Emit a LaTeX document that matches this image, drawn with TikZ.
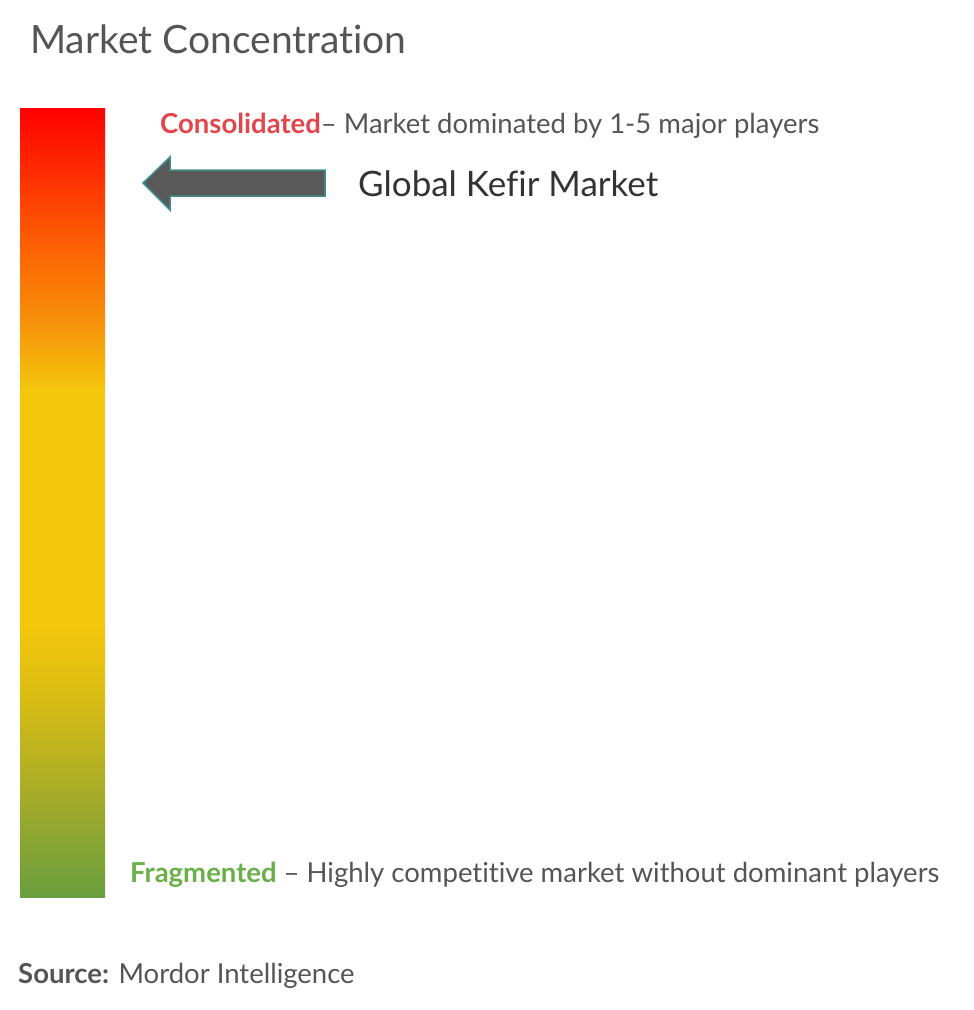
\documentclass[tikz,border=0pt]{standalone}
\usepackage{fontspec}
\setmainfont{Lato}[Ligatures=NoCommon]
\usepackage{xcolor}
\definecolor{inkgray}{HTML}{555555}
\definecolor{inkdark}{HTML}{333333}
\definecolor{consred}{HTML}{E0464C}
\definecolor{fraggreen}{HTML}{6AAF48}
\definecolor{arrowfill}{HTML}{595959}
\definecolor{arrowedge}{HTML}{3F8F8F}
\definecolor{barA}{HTML}{FF0000}
\definecolor{barB}{HTML}{FC6404}
\definecolor{barC}{HTML}{F7900A}
\definecolor{barD}{HTML}{F4C70C}
\definecolor{barE}{HTML}{D8BC14}
\definecolor{barF}{HTML}{A3AB2A}
\definecolor{barG}{HTML}{6A9E3E}

\begin{document}
\begin{tikzpicture}[
  x=1pt, y=-1pt,
  txt/.style    = {anchor=base west, inner sep=0pt, text=inkgray, font=\fontsize{27.5}{32}\selectfont},
  title/.style  = {anchor=base west, inner sep=0pt, text=inkgray, font=\fontsize{39}{45}\selectfont},
  market/.style = {anchor=base west, inner sep=0pt, text=inkdark, font=\fontsize{35}{40}\selectfont},
  pointer/.style= {fill=arrowfill, draw=arrowedge, line width=1.5pt, line join=miter},
]
\useasboundingbox (0,0) rectangle (974,1010);

% ---- the title
\node[title] (heading) at (30,53) {Market Concentration};

% ---- the colour bar, top to bottom
\shade[top color=barA, bottom color=barB] (20,108) rectangle (105,250.5);
\shade[top color=barB, bottom color=barC] (20,250) rectangle (105,320.5);
\shade[top color=barC, bottom color=barD] (20,320) rectangle (105,390.5);
\fill[barD] (20,390) rectangle (105,625.5);
\shade[top color=barD, bottom color=barE] (20,625) rectangle (105,700.5);
\shade[top color=barE, bottom color=barF] (20,700) rectangle (105,800.5);
\shade[top color=barF, bottom color=barG] (20,800) rectangle (105,897);
\coordinate (bartop) at (105,108);
\coordinate (barbot) at (105,897);

% ---- the two ends of the scale
\node[txt] (cons) at (160,133)
     {\textcolor{consred}{\bfseries Consolidated}– Market dominated by 1-5 major players};
\node[txt] (frag) at (130,882)
     {\textcolor{fraggreen}{\bfseries Fragmented} – Highly competitive market without dominant players};

% ---- where this market sits
\node[market] (kefir) at (358,196) {Global Kefir Market};
\draw[pointer] (325,170) -- (170,170) -- (170,157) -- (143,183)
  -- (170,210) -- (170,196) -- (325,196) -- cycle;

% ---- source
\node[txt] (source) at (18,983) {{\bfseries Source:} Mordor Intelligence};

\end{tikzpicture}
\end{document}
